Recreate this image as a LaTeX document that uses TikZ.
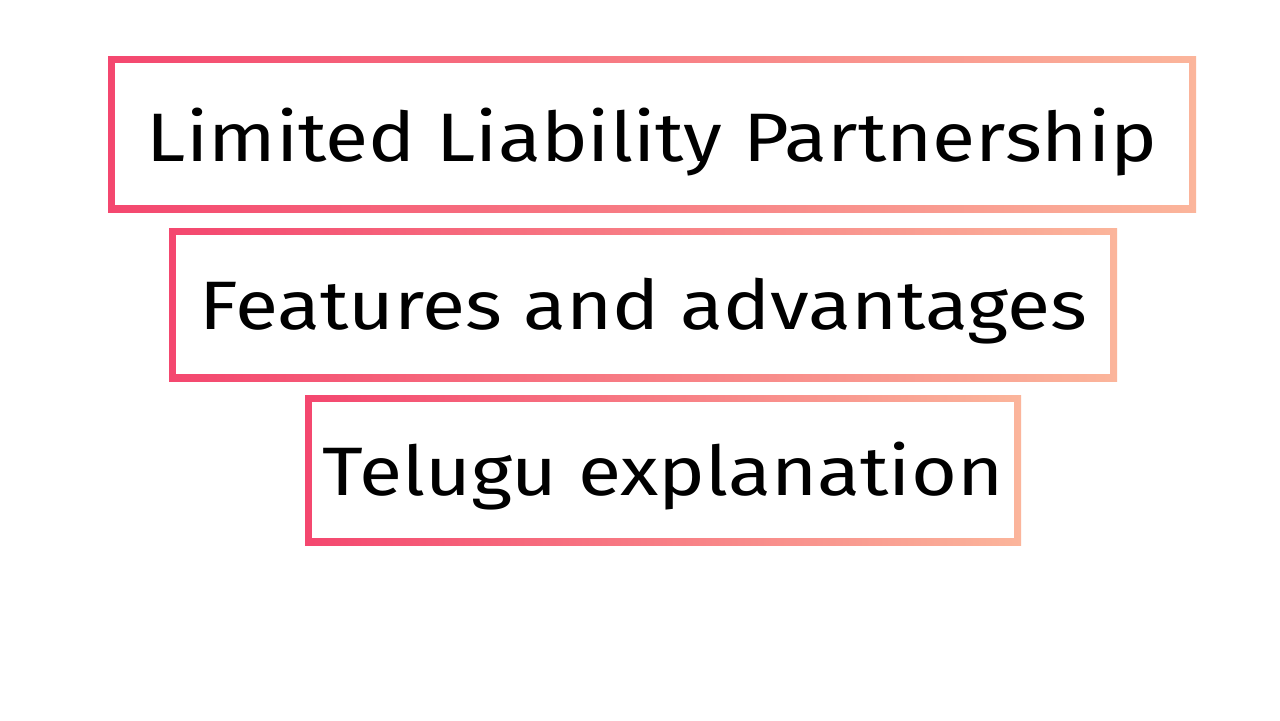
\documentclass[tikz,border=0pt]{standalone}
\usepackage{fontspec}
\setmainfont{Fira Sans}
\definecolor{pinkL}{HTML}{F4476F}
\definecolor{peachR}{HTML}{FBB59B}
\newcommand{\widetext}[1]{\scalebox{1.15}[1]{#1}}
\begin{document}
\begin{tikzpicture}[x=0.01cm,y=-0.01cm,
  frame/.style={left color=pinkL,right color=peachR},
  label/.style={font=\fontsize{19.5}{23}\selectfont,inner sep=0pt}]
  \useasboundingbox (0,0) rectangle (1280,720);
  \fill[white] (0,0) rectangle (1280,720);
  % boxes
  \shade[frame] (108,56) rectangle (1196,212);
  \fill[white] (115,63) rectangle (1189,205);
  \shade[frame] (169,228) rectangle (1117,381);
  \fill[white] (176,235) rectangle (1110,374);
  \shade[frame] (305,395) rectangle (1021,545);
  \fill[white] (312,402) rectangle (1014,538);
  % texts
  \node[label] (title)    at (652,142) {\widetext{Limited Liability Partnership}};
  \node[label] (features) at (643,311) {\widetext{Features and advantages}};
  \node[label] (telugu)   at (663,476) {\widetext{Telugu explanation}};
\end{tikzpicture}
\end{document}
